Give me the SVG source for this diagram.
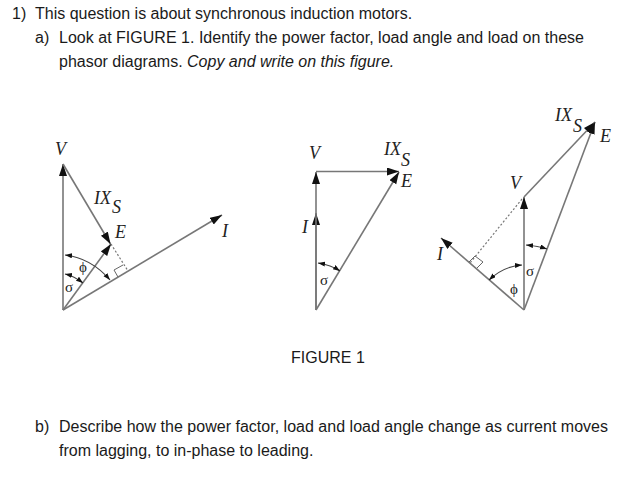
<svg xmlns="http://www.w3.org/2000/svg" width="626" height="485" viewBox="0 0 626 485">
<style>
.t{font:16px "Liberation Sans",Arial,sans-serif;fill:#1a1a1a}
.m{font:italic 18px "Liberation Serif","Times New Roman",serif;fill:#222}
.g{font:15px "Liberation Serif",serif;fill:#222}
.l{fill:none;stroke:#777;stroke-width:1.6}
.c{fill:none;stroke:#444;stroke-width:1.1}
.d{fill:none;stroke:#777;stroke-width:1.2;stroke-dasharray:2 2}
.r{fill:none;stroke:#666;stroke-width:1}
</style>
<defs>
<marker id="a" markerUnits="userSpaceOnUse" markerWidth="13" markerHeight="10" refX="12" refY="4" orient="auto"><path d="M0 0L12 4L0 8z" fill="#111"/></marker>
<marker id="s" markerUnits="userSpaceOnUse" markerWidth="8" markerHeight="7" refX="7" refY="2.500" orient="auto-start-reverse"><path d="M0 0L7 2.500L0 5z" fill="#111"/></marker>
</defs>
<rect width="626" height="485" fill="#fff"/>
<g id="question">
<text class="t" x="12" y="19">1)</text><text class="t" x="35" y="19">This question is about synchronous induction motors.</text>
<text class="t" x="35" y="43">a)</text><text class="t" x="59" y="43" textLength="525">Look at FIGURE 1. Identify the power factor, load angle and load on these</text>
<text class="t" x="59" y="67">phasor diagrams. <tspan font-style="italic">Copy and write on this figure.</tspan></text>
<text class="t" x="291" y="363">FIGURE 1</text>
<text class="t" x="35" y="432">b)</text><text class="t" x="59" y="432" textLength="549">Describe how the power factor, load and load angle change as current moves</text>
<text class="t" x="59" y="456">from lagging, to in-phase to leading.</text>
</g>
<g id="connectors">
<path class="l" marker-end="url(#a)" d="M63 310V164"/>
<path class="l" marker-end="url(#a)" d="M63 164L110.500 244"/>
<path class="l" marker-end="url(#a)" d="M63 310L111 244"/>
<path class="l" marker-end="url(#a)" d="M63 310L222 215"/>
<path class="d" d="M111 244L128 271"/>
<path class="r" d="M118 277L114 270L123 265"/>
<path class="c" marker-start="url(#s)" marker-end="url(#s)" d="M65 255Q91 258 110 280"/>
<path class="c" marker-start="url(#s)" marker-end="url(#s)" d="M65 274Q74 276 83 283"/>
<path class="l" marker-end="url(#a)" d="M316 310V213"/>
<path class="l" marker-end="url(#a)" d="M316 310V172"/>
<path class="l" marker-end="url(#a)" d="M316 171.500H399"/>
<path class="l" marker-end="url(#a)" d="M316 310L399 172"/>
<path class="c" marker-start="url(#s)" marker-end="url(#s)" d="M318 263Q331 265 340 271"/>
<path class="l" marker-end="url(#a)" d="M524 310V197"/>
<path class="l" marker-end="url(#a)" d="M524 197L595 122"/>
<path class="l" marker-end="url(#a)" d="M524 310L595 122"/>
<path class="l" marker-end="url(#a)" d="M524 310L441 238"/>
<path class="d" d="M522 199L470 263"/>
<path class="r" d="M469 262L475 256L483 262L477 268"/>
<path class="c" marker-start="url(#s)" marker-end="url(#s)" d="M489 280Q504 266 522 265"/>
<path class="c" marker-start="url(#s)" marker-end="url(#s)" d="M526 245Q538 246 547 249"/>
</g>
<g id="labels">
<text class="m" x="55" y="155">V</text>
<text class="m" x="94" y="204">IX</text><text class="m" x="112" y="213" font-size="17">S</text>
<text class="m" x="115" y="238">E</text>
<text class="m" x="222" y="237">I</text>
<text class="g" x="79" y="272">ϕ</text>
<text class="g" x="65" y="292" font-size="17">σ</text>
<text class="m" x="309" y="159">V</text>
<text class="m" x="384" y="155">IX</text><text class="m" x="401" y="166" font-size="17">S</text>
<text class="m" x="401" y="187">E</text>
<text class="m" x="302" y="233">I</text>
<text class="g" x="320" y="285" font-size="17">σ</text>
<text class="m" x="510" y="189">V</text>
<text class="m" x="555" y="121">IX</text><text class="m" x="573" y="132" font-size="17">S</text>
<text class="m" x="600" y="142">E</text>
<text class="m" x="437" y="260">I</text>
<text class="g" x="526" y="276" font-size="17">σ</text>
<text class="g" x="510" y="294">ϕ</text>
</g>
</svg>
